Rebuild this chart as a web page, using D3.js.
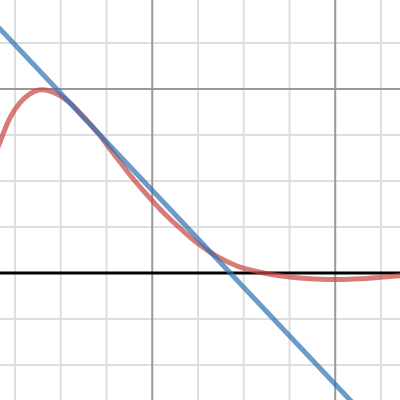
<!DOCTYPE html>
<html>
<head>
<meta charset="utf-8">
<script src="https://cdn.jsdelivr.net/npm/d3@7"></script>
<style>
  html, body { margin: 0; padding: 0; background: #fff; }
  svg { display: block; }
</style>
</head>
<body>
<script>
// curve
var curveX = [0.30, 0.336, 0.444, 0.553, 0.662, 0.771, 0.881, 0.992, 1.101, 1.210, 1.320, 1.429,
              1.538, 1.648, 1.757, 1.866, 1.975, 2.084, 2.194, 2.303, 2.412, 2.522,
              2.631, 2.740, 2.850, 2.959, 3.068, 3.177, 3.396, 3.614, 3.833, 4.052,
              4.271, 4.489, 4.708, 4.75];
var curveY = [1.334, 1.424, 1.685, 1.848, 1.946, 1.991, 1.978, 1.929, 1.848, 1.739, 1.620, 1.495,
              1.348, 1.207, 1.065, 0.935, 0.815, 0.696, 0.587, 0.489, 0.391, 0.304,
              0.228, 0.163, 0.109, 0.065, 0.035, 0.009, -0.030, -0.054, -0.067, -0.070,
              -0.062, -0.047, -0.030, -0.027];

// straight line, two ends
var lineX = [0.30, 4.30];
var lineY = [2.690, -1.526];

var gridStep = 0.5;
var majorStep = 2;

var width = 400, height = 400;

var x = d3.scaleLinear().domain([0.336, 4.708]).range([0, width]);
var y = d3.scaleLinear().domain([-1.380, 2.967]).range([height, 0]);

var svg = d3.select('body')
    .append('svg')
    .attr('width', width)
    .attr('height', height);

var xGrid = d3.range(Math.ceil(x.domain()[0] / gridStep), Math.floor(x.domain()[1] / gridStep) + 1)
    .map(function(k){ return k * gridStep; });
var yGrid = d3.range(Math.ceil(y.domain()[0] / gridStep), Math.floor(y.domain()[1] / gridStep) + 1)
    .map(function(k){ return k * gridStep; });

function isMajor(v){ return Math.abs(v / majorStep - Math.round(v / majorStep)) < 1e-6; }

// minor grid
svg.append('g').selectAll('line.xminor')
    .data(xGrid.filter(function(d){ return !isMajor(d); }))
    .enter().append('line')
    .attr('x1', function(d){ return x(d); })
    .attr('x2', function(d){ return x(d); })
    .attr('y1', 0).attr('y2', height)
    .style('stroke', '#dedede').style('stroke-width', 2);

svg.append('g').selectAll('line.yminor')
    .data(yGrid.filter(function(d){ return !isMajor(d); }))
    .enter().append('line')
    .attr('y1', function(d){ return y(d); })
    .attr('y2', function(d){ return y(d); })
    .attr('x1', 0).attr('x2', width)
    .style('stroke', '#dedede').style('stroke-width', 2);

// major grid
svg.append('g').selectAll('line.xmajor')
    .data(xGrid.filter(function(d){ return isMajor(d) && d !== 0; }))
    .enter().append('line')
    .attr('x1', function(d){ return x(d); })
    .attr('x2', function(d){ return x(d); })
    .attr('y1', 0).attr('y2', height)
    .style('stroke', '#999').style('stroke-width', 2);

svg.append('g').selectAll('line.ymajor')
    .data(yGrid.filter(function(d){ return isMajor(d) && d !== 0; }))
    .enter().append('line')
    .attr('y1', function(d){ return y(d); })
    .attr('y2', function(d){ return y(d); })
    .attr('x1', 0).attr('x2', width)
    .style('stroke', '#999').style('stroke-width', 2);

// x axis
svg.append('line')
    .attr('x1', 0).attr('x2', width)
    .attr('y1', y(0)).attr('y2', y(0))
    .style('stroke', '#000').style('stroke-width', 3);

var path = d3.line()
    .x(function(d){ return x(d[0]); })
    .y(function(d){ return y(d[1]); });

svg.append('path')
    .datum(d3.zip(curveX, curveY))
    .attr('d', path.curve(d3.curveCatmullRom.alpha(0.5)))
    .style('fill', 'none')
    .style('stroke', '#c74440')
    .style('stroke-opacity', 0.7)
    .style('stroke-width', 5);

svg.append('path')
    .datum(d3.zip(lineX, lineY))
    .attr('d', path.curve(d3.curveLinear))
    .style('fill', 'none')
    .style('stroke', '#2d70b3')
    .style('stroke-opacity', 0.7)
    .style('stroke-width', 5);
</script>
</body>
</html>
